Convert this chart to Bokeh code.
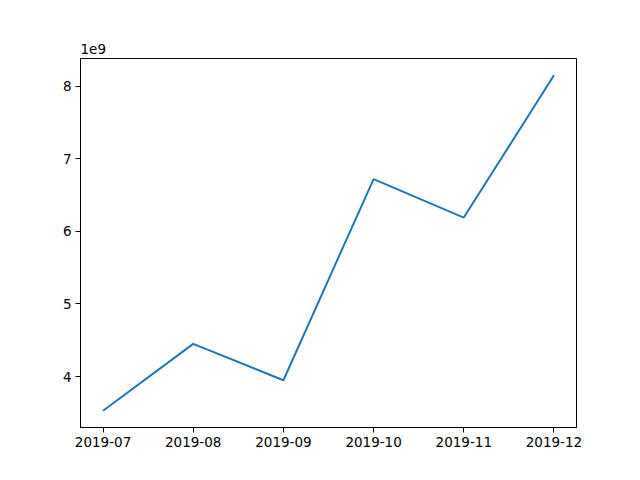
from bokeh.plotting import figure
from bokeh.models import Range1d, FixedTicker, CustomJSTickFormatter
from bokeh.embed import file_html
from bokeh.resources import INLINE

months = ["2019-07", "2019-08", "2019-09", "2019-10", "2019-11", "2019-12"]
values = [3.53e9, 4.45e9, 3.95e9, 6.72e9, 6.19e9, 8.15e9]
y_ticks = [4e9, 5e9, 6e9, 7e9, 8e9]

x = list(range(len(months)))
span = x[-1] - x[0]
ymin, ymax = min(values), max(values)
yspan = ymax - ymin

p = figure(width=640, height=480,
           output_backend="svg", toolbar_location=None,
           min_border_left=80, min_border_right=64,
           min_border_top=58, min_border_bottom=53,
           title="1e9")
p.x_range = Range1d(x[0] - 0.05 * span, x[-1] + 0.05 * span)
p.y_range = Range1d(ymin - 0.05 * yspan, ymax + 0.05 * yspan)

p.line(x, values, line_color="#1f77b4", line_width=2)

p.title.align = "left"
p.title.text_font = "DejaVu Sans"
p.title.text_font_size = "13.5px"
p.title.text_font_style = "normal"
p.title.text_color = "black"
p.title.standoff = 9
p.title.offset = 0

p.xgrid.visible = False
p.ygrid.visible = False
p.outline_line_color = "black"
p.outline_line_width = 1
p.background_fill_color = "white"
p.border_fill_color = "white"

p.xaxis.ticker = FixedTicker(ticks=x)
p.xaxis.major_label_overrides = {i: m for i, m in zip(x, months)}
p.yaxis.ticker = FixedTicker(ticks=y_ticks)
p.yaxis.formatter = CustomJSTickFormatter(code="return (tick/1e9).toFixed(0);")

for ax in (p.xaxis[0], p.yaxis[0]):
    ax.major_tick_in = 0
    ax.major_tick_out = 5
    ax.minor_tick_line_color = None
    ax.major_label_text_font = "DejaVu Sans"
    ax.major_label_text_font_size = "13.5px"
    ax.major_label_text_color = "black"
    ax.axis_line_color = "black"
    ax.major_tick_line_color = "black"
    ax.major_label_standoff = 4

open("out.html", "w").write(file_html(p, INLINE))
